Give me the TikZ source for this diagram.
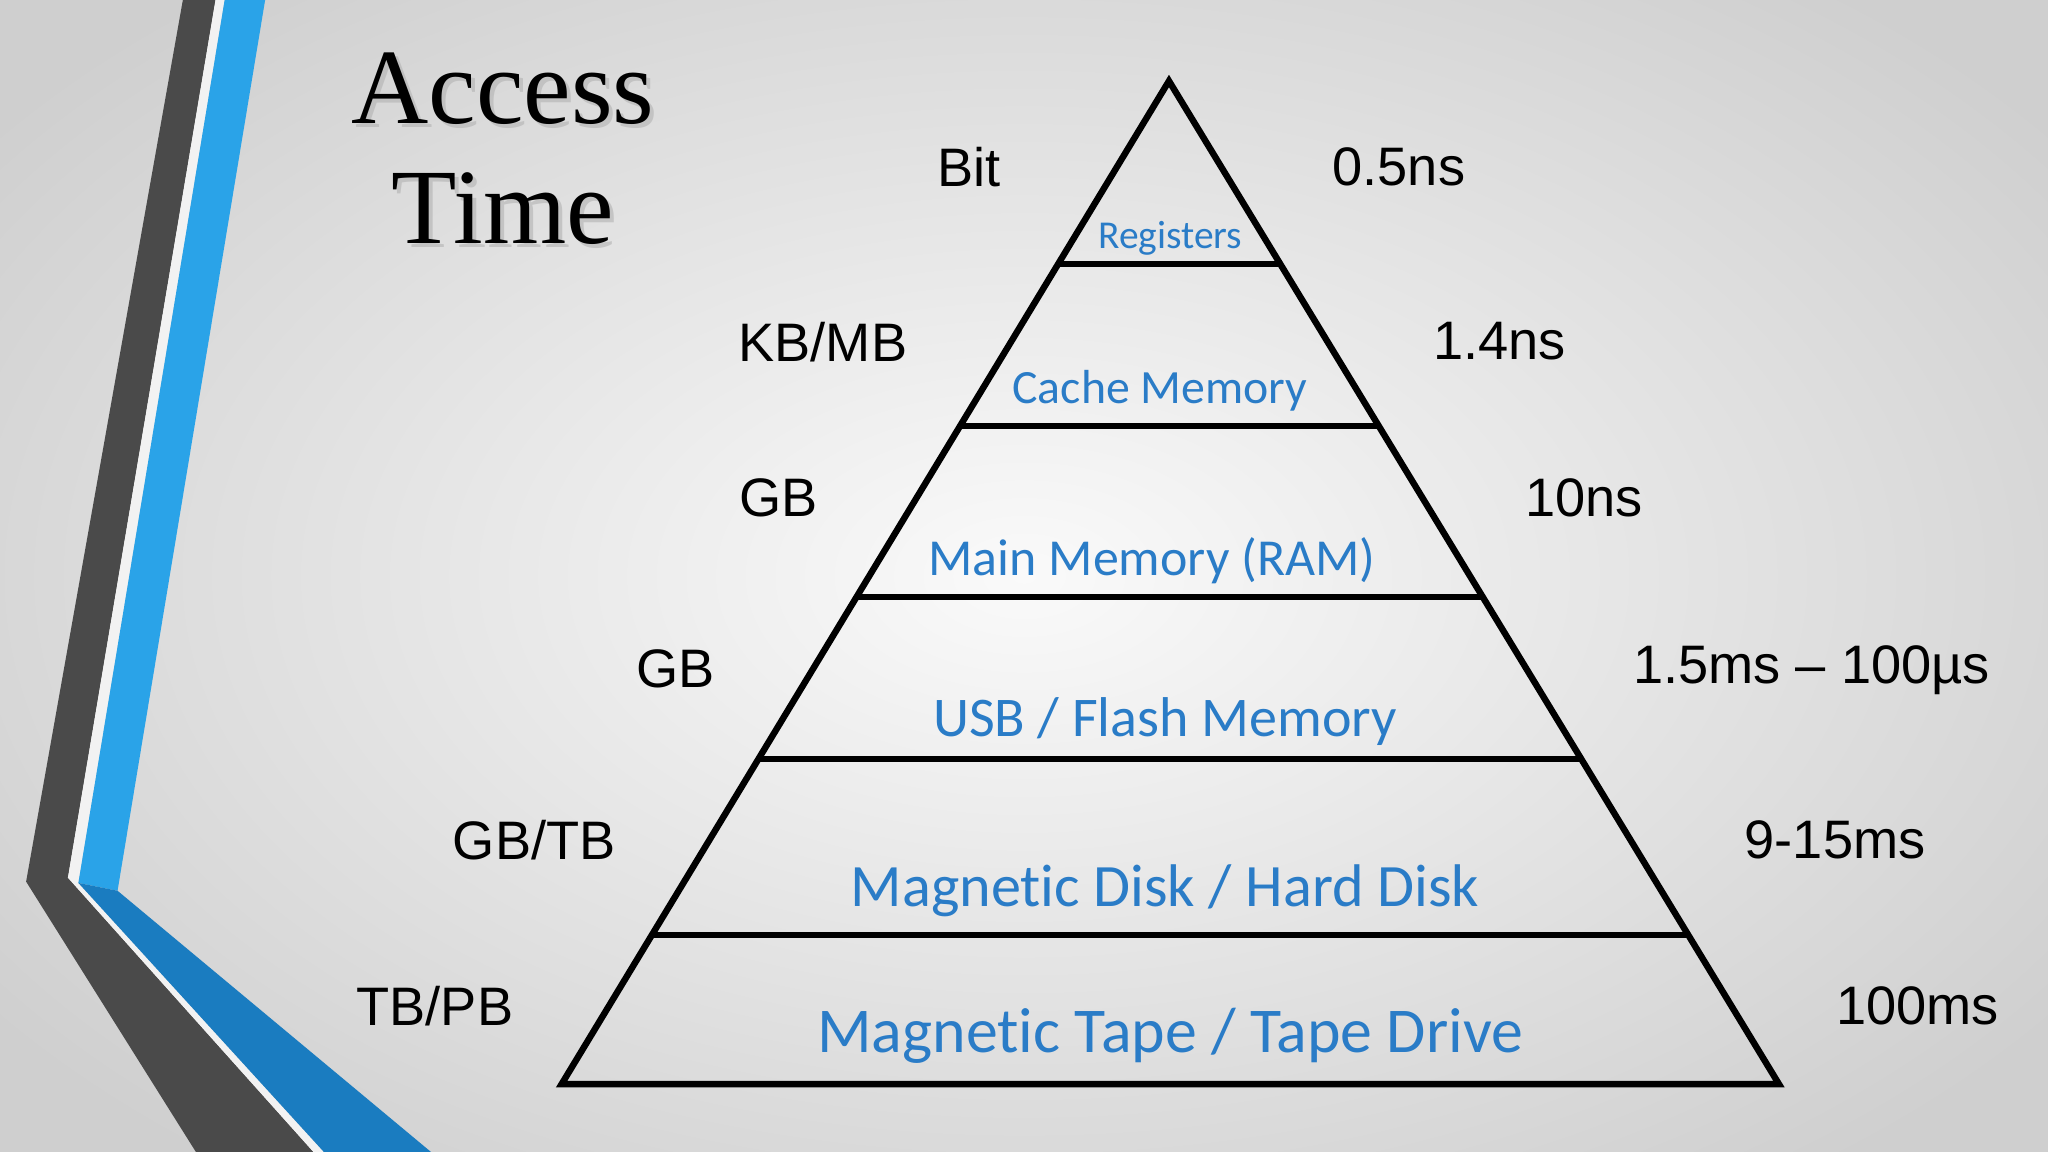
\documentclass[tikz,border=0pt]{standalone}
\usepackage{fontspec}
\usetikzlibrary{calc}
\setmainfont{Liberation Sans}
\newfontfamily\calib[Ligatures=NoCommon]{Carlito}
\newfontfamily\titlefont{Liberation Serif}
\definecolor{lvl}{HTML}{2A7CC7}
\definecolor{bandblue}{HTML}{2AA3E8}
\definecolor{bandblue2}{HTML}{1A7CC0}
\definecolor{bandgray}{HTML}{4A4A4A}
\begin{document}
\begin{tikzpicture}[x=0.01cm,y=-0.01cm,
  sidelbl/.style={font=\fontsize{11.8}{13}\selectfont, text=black},
  lvltxt/.style={text=lvl, anchor=base},
  edge/.style={line width=1.4pt, black}]
\useasboundingbox (0,0) rectangle (1568,882);
\shade[inner color=gray!4, outer color=gray!38] (-200,-150) rectangle (1768,1032);
% left decoration
\fill[bandgray] (140,0) -- (165,0) -- (52,672) -- (240,882) -- (150,882) -- (20,675) -- cycle;
\fill[white!90!gray] (165,0) -- (172,0) -- (60,676) -- (248,882) -- (240,882) -- (52,672) -- cycle;
\fill[bandblue] (172,0) -- (203,0) -- (90,682) -- (60,676) -- cycle;
\fill[bandblue2] (60,676) -- (90,682) -- (330,882) -- (248,882) -- cycle;
% title
\node[font=\titlefont\fontsize{23.3}{26}\selectfont, text=gray!60, opacity=0.6] at (388,71) {Access};
\node[font=\titlefont\fontsize{23.3}{26}\selectfont] (t1) at (385,68) {Access};
\node[font=\titlefont\fontsize{23.3}{26}\selectfont, text=gray!60, opacity=0.6] at (388,163) {Time};
\node[font=\titlefont\fontsize{23.3}{26}\selectfont] (t2) at (385,160) {Time};
% pyramid
\coordinate (A) at (895,62);
\coordinate (BL) at (430,830);
\coordinate (BR) at (1362,830);
\draw[edge, line join=miter] (A) -- (BL) -- (BR) -- cycle;
\foreach \t in {0.1823,0.3438,0.5143,0.6758,0.8516}
  \draw[edge] ($(A)!\t!(BL)$) -- ($(A)!\t!(BR)$);
% level labels
\node[lvltxt, font=\calib\fontsize{8.6}{10}\selectfont] (l1) at (896,190) {Registers};
\node[lvltxt, font=\calib\fontsize{10.4}{12}\selectfont] (l2) at (888,309) {Cache Memory};
\node[lvltxt, font=\calib\fontsize{11.3}{13}\selectfont] (l3) at (882,441) {Main Memory (RAM)};
\node[lvltxt, font=\calib\fontsize{12.2}{14}\selectfont] (l4) at (892,564) {USB / Flash Memory};
\node[lvltxt, font=\calib\fontsize{13.1}{15}\selectfont] (l5) at (892,694) {Magnetic Disk / Hard Disk};
\node[lvltxt, font=\calib\fontsize{13.9}{16}\selectfont] (l6) at (896,806) {Magnetic Tape / Tape Drive};
% side labels
\node[sidelbl] (s1) at (742,128) {Bit};
\node[sidelbl] (s2) at (630,262) {KB/MB};
\node[sidelbl] (s3) at (596,381) {GB};
\node[sidelbl] (s4) at (517,512) {GB};
\node[sidelbl] (s5) at (409,643) {GB/TB};
\node[sidelbl] (s6) at (333,770) {TB/PB};
\node[sidelbl] (r1) at (1071,128) {0.5ns};
\node[sidelbl] (r2) at (1148,261) {1.4ns};
\node[sidelbl] (r3) at (1213,381) {10ns};
\node[sidelbl] (r4) at (1387,513) {1.5ms – 100µs};
\node[sidelbl] (r5) at (1405,643) {9-15ms};
\node[sidelbl] (r6) at (1468,770) {100ms};
\end{tikzpicture}
\end{document}
